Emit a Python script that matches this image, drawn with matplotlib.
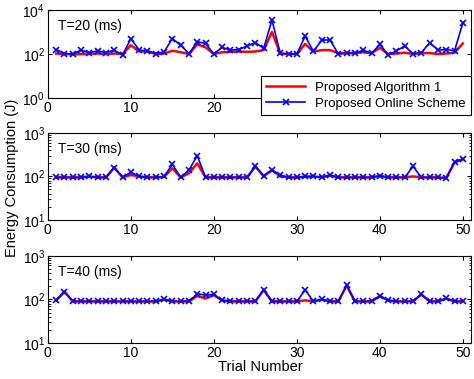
import matplotlib
matplotlib.use('Agg')
import matplotlib.pyplot as plt
from matplotlib.ticker import LogLocator, NullFormatter

plt.rcParams['font.family'] = ['Liberation Sans', 'DejaVu Sans']
plt.rcParams['font.size'] = 10
plt.rcParams['mathtext.fontset'] = 'custom'
plt.rcParams['mathtext.rm'] = 'Liberation Sans'

trials = list(range(1, 51))

# T = 20 ms
alg_20 = [105, 100, 95, 100, 100, 105, 100, 105, 100, 250,
          130, 130, 100, 105, 140, 120, 100, 275, 200, 100,
          120, 125, 130, 125, 130, 150, 1000, 105, 100, 100,
          285, 130, 150, 150, 110, 110, 110, 120, 110, 190,
          100, 105, 115, 100, 110, 110, 100, 105, 115, 300]
online_20 = [160, 105, 100, 150, 115, 140, 115, 150, 90, 500,
             150, 140, 105, 125, 500, 250, 105, 360, 300, 100,
             200, 150, 160, 230, 330, 180, 3500, 107, 100, 100,
             650, 130, 430, 430, 100, 107, 107, 150, 107, 275,
             90, 140, 230, 100, 115, 325, 150, 160, 140, 2600]

# T = 30 ms
alg_30 = [95, 95, 95, 95, 100, 95, 95, 160, 95, 108,
          100, 95, 95, 97, 155, 95, 118, 200, 95, 95,
          95, 95, 95, 95, 170, 100, 140, 100, 95, 95,
          98, 100, 95, 105, 95, 95, 95, 95, 95, 103,
          95, 95, 95, 100, 95, 95, 95, 92, 210, 250]
online_30 = [95, 95, 95, 95, 100, 95, 95, 160, 95, 125,
             100, 95, 95, 100, 190, 95, 140, 300, 95, 95,
             95, 95, 95, 95, 170, 105, 140, 108, 95, 95,
             100, 100, 95, 108, 95, 95, 95, 95, 95, 103,
             95, 95, 95, 170, 95, 95, 95, 92, 215, 250]

# T = 40 ms
alg_40 = [95, 150, 90, 90, 90, 90, 90, 90, 90, 90,
          90, 90, 90, 100, 90, 90, 90, 120, 105, 125,
          95, 90, 90, 90, 90, 165, 90, 90, 90, 90,
          95, 90, 100, 90, 90, 210, 90, 90, 90, 120,
          95, 90, 90, 90, 130, 90, 90, 105, 90, 90]
online_40 = [95, 150, 90, 90, 90, 90, 90, 90, 90, 90,
             90, 90, 90, 100, 90, 90, 90, 135, 125, 130,
             95, 90, 90, 90, 90, 165, 90, 90, 90, 90,
             165, 90, 100, 90, 90, 210, 90, 90, 90, 120,
             95, 90, 90, 90, 130, 90, 90, 105, 90, 90]

xticks = [0, 10, 20, 30, 40, 50]
# the legend hides "30", "40" and "50" on the top panel
top_xlabels = ['0', '10', '20', '', '', '']

panels = [
    ('T=20 (ms)', alg_20, online_20, (1, 1e4), [1, 1e2, 1e4]),
    ('T=30 (ms)', alg_30, online_30, (10, 1e3), [10, 1e2, 1e3]),
    ('T=40 (ms)', alg_40, online_40, (10, 1e3), [10, 1e2, 1e3]),
]

fig = plt.figure(figsize=(4.74, 3.79), dpi=100)
rects = [[0.101, 0.741, 0.893, 0.233],
         [0.101, 0.420, 0.893, 0.229],
         [0.101, 0.095, 0.893, 0.230]]

for i, (title, alg, online, ylim, yt) in enumerate(panels):
    ax = fig.add_axes(rects[i])
    l1, = ax.plot(trials, alg, color='red', lw=1.8, label='Proposed Algorithm 1')
    l2, = ax.plot(trials, online, color='blue', lw=1.2, marker='x', ms=4.8,
                  mew=1.2, label='Proposed Online Scheme')
    ax.set_yscale('log')
    ax.set_ylim(*ylim)
    ax.set_yticks(yt)
    if i == 0:
        ax.yaxis.set_minor_locator(plt.NullLocator())
    else:
        ax.yaxis.set_minor_locator(LogLocator(subs=range(2, 10)))
        ax.yaxis.set_minor_formatter(NullFormatter())
    ax.set_xlim(0, 51)
    ax.set_xticks(xticks)
    if i == 0:
        ax.set_xticklabels(top_xlabels)
    ax.tick_params(which='both', direction='in', top=True, right=True)
    ax.tick_params(which='major', length=3, pad=2, labelsize=10)
    ax.tick_params(which='minor', length=1.8)
    ax.text(0.024, 0.815, title, transform=ax.transAxes, fontsize=10,
            va='center')
    if i == 0:
        leg = ax.legend(handles=[l1, l2], loc='upper right',
                        bbox_to_anchor=(0.994, 1 - 76 / 379),
                        bbox_transform=fig.transFigure,
                        fancybox=False, edgecolor='black', framealpha=1,
                        fontsize=9.5, borderaxespad=0, handlelength=2.9,
                        borderpad=0.4, labelspacing=0.3)
        leg.get_frame().set_linewidth(0.8)

fig.text(0.025, 0.53, 'Energy Consumption (J)', rotation=90,
         ha='center', va='center', fontsize=10.5)
fig.text(0.55, 0.012, 'Trial Number', ha='center', va='bottom', fontsize=10.5)

fig.savefig('out.png', dpi=100)
